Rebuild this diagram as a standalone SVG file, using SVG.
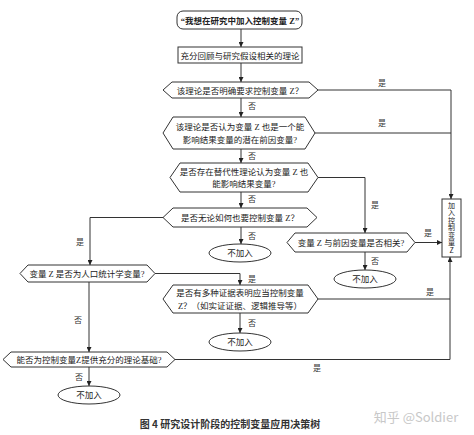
<svg xmlns="http://www.w3.org/2000/svg" width="474" height="435" viewBox="0 0 474 435">
<defs>
<marker id="ah" viewBox="0 0 8 8" refX="8" refY="4" markerWidth="5" markerHeight="5" orient="auto">
<path d="M0,0 L8,4 L0,8 z" fill="#222"/>
</marker>
<style>
.shape{fill:#fff;stroke:#333;stroke-width:1}
.t{font-family:"Liberation Serif","Noto Sans CJK SC",serif;font-size:8.5px;fill:#222;text-anchor:middle}
.v{font-family:"Noto Sans CJK SC",serif;font-size:7px;fill:#222;text-anchor:middle;writing-mode:vertical-rl;text-orientation:upright;letter-spacing:0.5px}
.lb{font-family:"Liberation Serif","Noto Sans CJK SC",serif;font-size:8px;fill:#333;text-anchor:middle}
.c{fill:none;stroke:#333;stroke-width:1}
.a{marker-end:url(#ah)}
</style>
</defs>
<rect width="474" height="435" fill="#fff"/>

<g id="start">
<rect x="177" y="11" width="125" height="18" rx="6" class="shape" stroke-width="1.6"/>
<text x="240" y="23.5" class="t" font-weight="bold">“我想在研究中加入控制变量 Z”</text>
</g>
<g id="review">
<rect x="178" y="47" width="124" height="16" class="shape"/>
<text x="240" y="58.5" class="t">充分回顾与研究假设相关的理论</text>
</g>
<g id="q1">
<polygon points="163,90 172,82 309,82 318,90 309,98 172,98" class="shape"/>
<text x="240" y="93.5" class="t">该理论是否明确要求控制变量 Z？</text>
</g>
<g id="q2">
<polygon points="163,133 173,117 305,117 315,133 305,149 173,149" class="shape"/>
<text x="240" y="130" class="t">该理论是否认为变量 Z 也是一个能</text>
<text x="240" y="143" class="t">影响结果变量的潜在前因变量?</text>
</g>
<g id="q3">
<polygon points="170,177.5 180,163 308,163 318,177.5 308,192 180,192" class="shape"/>
<text x="244" y="174.5" class="t">是否存在替代性理论认为变量 Z 也</text>
<text x="244" y="187" class="t">能影响结果变量?</text>
</g>
<g id="q4">
<polygon points="163,217.5 173,208 307,208 317,217.5 307,227 173,227" class="shape"/>
<text x="240" y="221" class="t">是否无论如何也要控制变量 Z？</text>
</g>
<g id="no1">
<ellipse cx="240" cy="253" rx="31" ry="9" class="shape"/>
<text x="240" y="256" class="t">不加入</text>
</g>
<g id="q5">
<polygon points="287,242.5 295,233 407,233 415,242.5 407,252 295,252" class="shape"/>
<text x="351" y="246" class="t">变量 Z 与前因变量是否相关?</text>
</g>
<g id="no2">
<ellipse cx="365" cy="279" rx="31" ry="9" class="shape"/>
<text x="365" y="282" class="t">不加入</text>
</g>
<g id="add">
<rect x="442" y="199" width="19" height="58" class="shape"/>
<text x="451.5" y="228" class="v">加入控制变量Z</text>
</g>
<g id="q6">
<polygon points="20,273.5 28,265 147,265 155,273.5 147,282 28,282" class="shape"/>
<text x="87" y="277" class="t">变量 Z 是否为人口统计学变量?</text>
</g>
<g id="q7">
<polygon points="163,299 173,285 308,285 318,299 308,313 173,313" class="shape"/>
<text x="240" y="296" class="t">是否有多种证据表明应当控制变量</text>
<text x="240" y="308.5" class="t">Z？（如实证证据、逻辑推导等）</text>
</g>
<g id="no3">
<ellipse cx="240" cy="342" rx="31" ry="9" class="shape"/>
<text x="240" y="345" class="t">不加入</text>
</g>
<g id="q8">
<polygon points="3,359.5 11,352 167,352 175,359.5 167,367 11,367" class="shape"/>
<text x="89" y="363" class="t">能否为控制变量Z提供充分的理论基础?</text>
</g>
<g id="no4">
<ellipse cx="89" cy="395" rx="31" ry="9" class="shape"/>
<text x="89" y="398" class="t">不加入</text>
</g>

<g id="connectors">
<path d="M241,29 V47" class="c a"/>
<path d="M241,63 V82" class="c a"/>
<path d="M241,98 V117" class="c a"/>
<path d="M241,149 V163" class="c a"/>
<path d="M241,192 V208" class="c a"/>
<path d="M241,227 V244" class="c a"/>
<path d="M318,90 H451 V199" class="c a"/>
<path d="M315,133 H451" class="c"/>
<path d="M318,177.5 H365 V233" class="c a"/>
<path d="M415,242.5 H442" class="c a"/>
<path d="M365,252 V270" class="c a"/>
<path d="M163,217.5 H90 V265" class="c a"/>
<path d="M155,273.5 H240 V285" class="c a"/>
<path d="M89,282 V352" class="c a"/>
<path d="M240,313 V333" class="c a"/>
<path d="M318,299 H450" class="c"/>
<path d="M175,359.5 H450 V257" class="c a"/>
<path d="M89,367 V386" class="c a"/>
<g>
<text x="382" y="86" class="lb">是</text>
<text x="382" y="126" class="lb">是</text>
<text x="375" y="208" class="lb">是</text>
<text x="428" y="236" class="lb">是</text>
<text x="80" y="245" class="lb">是</text>
<text x="252" y="282" class="lb">是</text>
<text x="430" y="295" class="lb">是</text>
<text x="317" y="371" class="lb">是</text>
<text x="252" y="109" class="lb">否</text>
<text x="252" y="159" class="lb">否</text>
<text x="252" y="202" class="lb">否</text>
<text x="252" y="239" class="lb">否</text>
<text x="375" y="264" class="lb">否</text>
<text x="78" y="323" class="lb">否</text>
<text x="252" y="326" class="lb">否</text>
<text x="79" y="380" class="lb">否</text>
</g>
</g>

<text x="230" y="428" font-family="'Noto Sans CJK SC',sans-serif" font-size="10px" font-weight="bold" fill="#333" text-anchor="middle">图 4  研究设计阶段的控制变量应用决策树</text>
<text x="416" y="422" font-family="'Noto Sans CJK SC',sans-serif" font-size="13px" fill="#c8c8c8" text-anchor="middle">知乎 @Soldier</text>
</svg>
